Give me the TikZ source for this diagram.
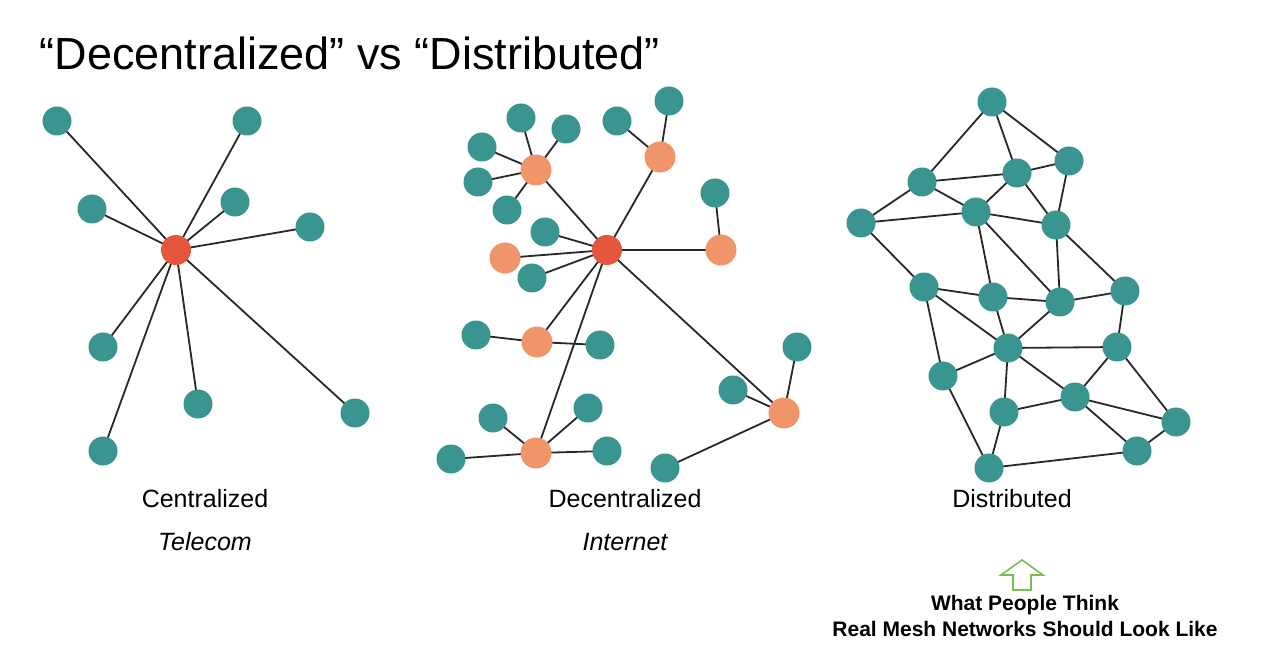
\documentclass[tikz,border=0pt]{standalone}
\usepackage{fontspec}
\setmainfont{Liberation Sans}
\pgfdeclarelayer{bg}\pgfsetlayers{bg,main}
\begin{document}
\begin{tikzpicture}[x=1pt,y=-1pt,
  tl/.style={circle,fill={rgb,255:red,58;green,148;blue,144},minimum size=29pt,inner sep=0},
  og/.style={circle,fill={rgb,255:red,240;green,149;blue,106},minimum size=31pt,inner sep=0},
  rd/.style={circle,fill={rgb,255:red,228;green,87;blue,61},minimum size=30pt,inner sep=0},
  ed/.style={draw={rgb,255:red,40;green,40;blue,40},line width=1.8pt},
  lab/.style={font=\fontsize{25}{30}\selectfont}]
\useasboundingbox (0,0) rectangle (1280,660);
\node[anchor=base west,font=\fontsize{45}{52}\selectfont] (title) at (36,70) {“Decentralized” vs “Distributed”};
% Centralized
\foreach \n/\p in {a/{57,121},b/{247,121},c/{92,209},d/{235,202},e/{310,227},f/{103,347},g/{198,404},h/{103,451},i/{355,413}}
  \node[tl] (cn\n) at (\p) {};
\node[rd] (ctr) at (176,250) {};
% Decentralized nodes
\node[rd] (dc) at (607,250) {};
\foreach \n/\p in {1/{536,170},2/{660,157},3/{721,250},4/{505,258},5/{537,342},6/{536,453},7/{784,413}}
  \node[og] (o\n) at (\p) {};
\foreach \n/\p in {a/{521,118},b/{566,129},c/{482,147},d/{478,182},e/{507,210},f/{617,121},g/{669,101},h/{715,193},i/{545,232},j/{532,278},k/{476,335},l/{600,345},m/{493,418},n/{588,408},o/{451,459},p/{607,451},q/{797,347},r/{733,390},s/{665,468}}
  \node[tl] (t\n) at (\p) {};
% Distributed nodes
\foreach \n/\p in {A/{992,102},B/{922,182},C/{1017,173},D/{1069,161},E/{861,223},F/{976,212},G/{1056,225},H/{924,287},I/{993,297},J/{1060,302},K/{1125,291},L/{1008,348},M/{1117,347},N/{943,376},O/{1075,397},P/{1004,412},Q/{1176,422},R/{1137,451},S/{989,468}}
  \node[tl] (m\n) at (\p) {};
\begin{pgfonlayer}{bg}
\foreach \n in {a,b,c,d,e,f,g,h,i} \draw[ed] (ctr.center) -- (cn\n.center);
\foreach \n in {o1,o2,o3,o4,o5,o6,o7,ti,tj} \draw[ed] (dc.center) -- (\n.center);
\foreach \a/\b in {o1/ta,o1/tb,o1/tc,o1/td,o1/te,o2/tf,o2/tg,o3/th,o5/tk,o5/tl,o6/tm,o6/tn,o6/to,o6/tp,o7/tq,o7/tr,o7/ts}
  \draw[ed] (\a.center) -- (\b.center);
\foreach \a/\b in {A/B,A/C,A/D,B/C,C/D,B/E,B/F,C/F,C/G,D/G,E/F,F/G,E/H,F/I,F/J,G/J,G/K,H/I,I/J,J/K,H/L,I/L,J/L,L/M,K/M,H/N,N/L,L/P,L/O,M/O,M/Q,O/P,O/Q,O/R,Q/R,N/S,P/S,S/R}
  \draw[ed] (m\a.center) -- (m\b.center);
\end{pgfonlayer}
\node[lab] (l1) at (205,499) {Centralized};
\node[lab,font=\fontsize{25}{30}\selectfont\itshape] (l1b) at (205,542) {Telecom};
\node[lab] (l2) at (625,499) {Decentralized};
\node[lab,font=\fontsize{25}{30}\selectfont\itshape] (l2b) at (625,542) {Internet};
\node[lab] (l3) at (1012,499) {Distributed};
\draw[draw={rgb,255:red,120;green,190;blue,80},line width=1.6pt,line join=miter]
  (1013,590) -- (1013,575) -- (1001,575) -- (1022,560) -- (1043,575) -- (1031,575) -- (1031,590) -- cycle;
\node[font=\fontsize{21}{26}\selectfont\bfseries,align=center] (wp) at (1025,616) {What People Think\\Real Mesh Networks Should Look Like};
\end{tikzpicture}
\end{document}
